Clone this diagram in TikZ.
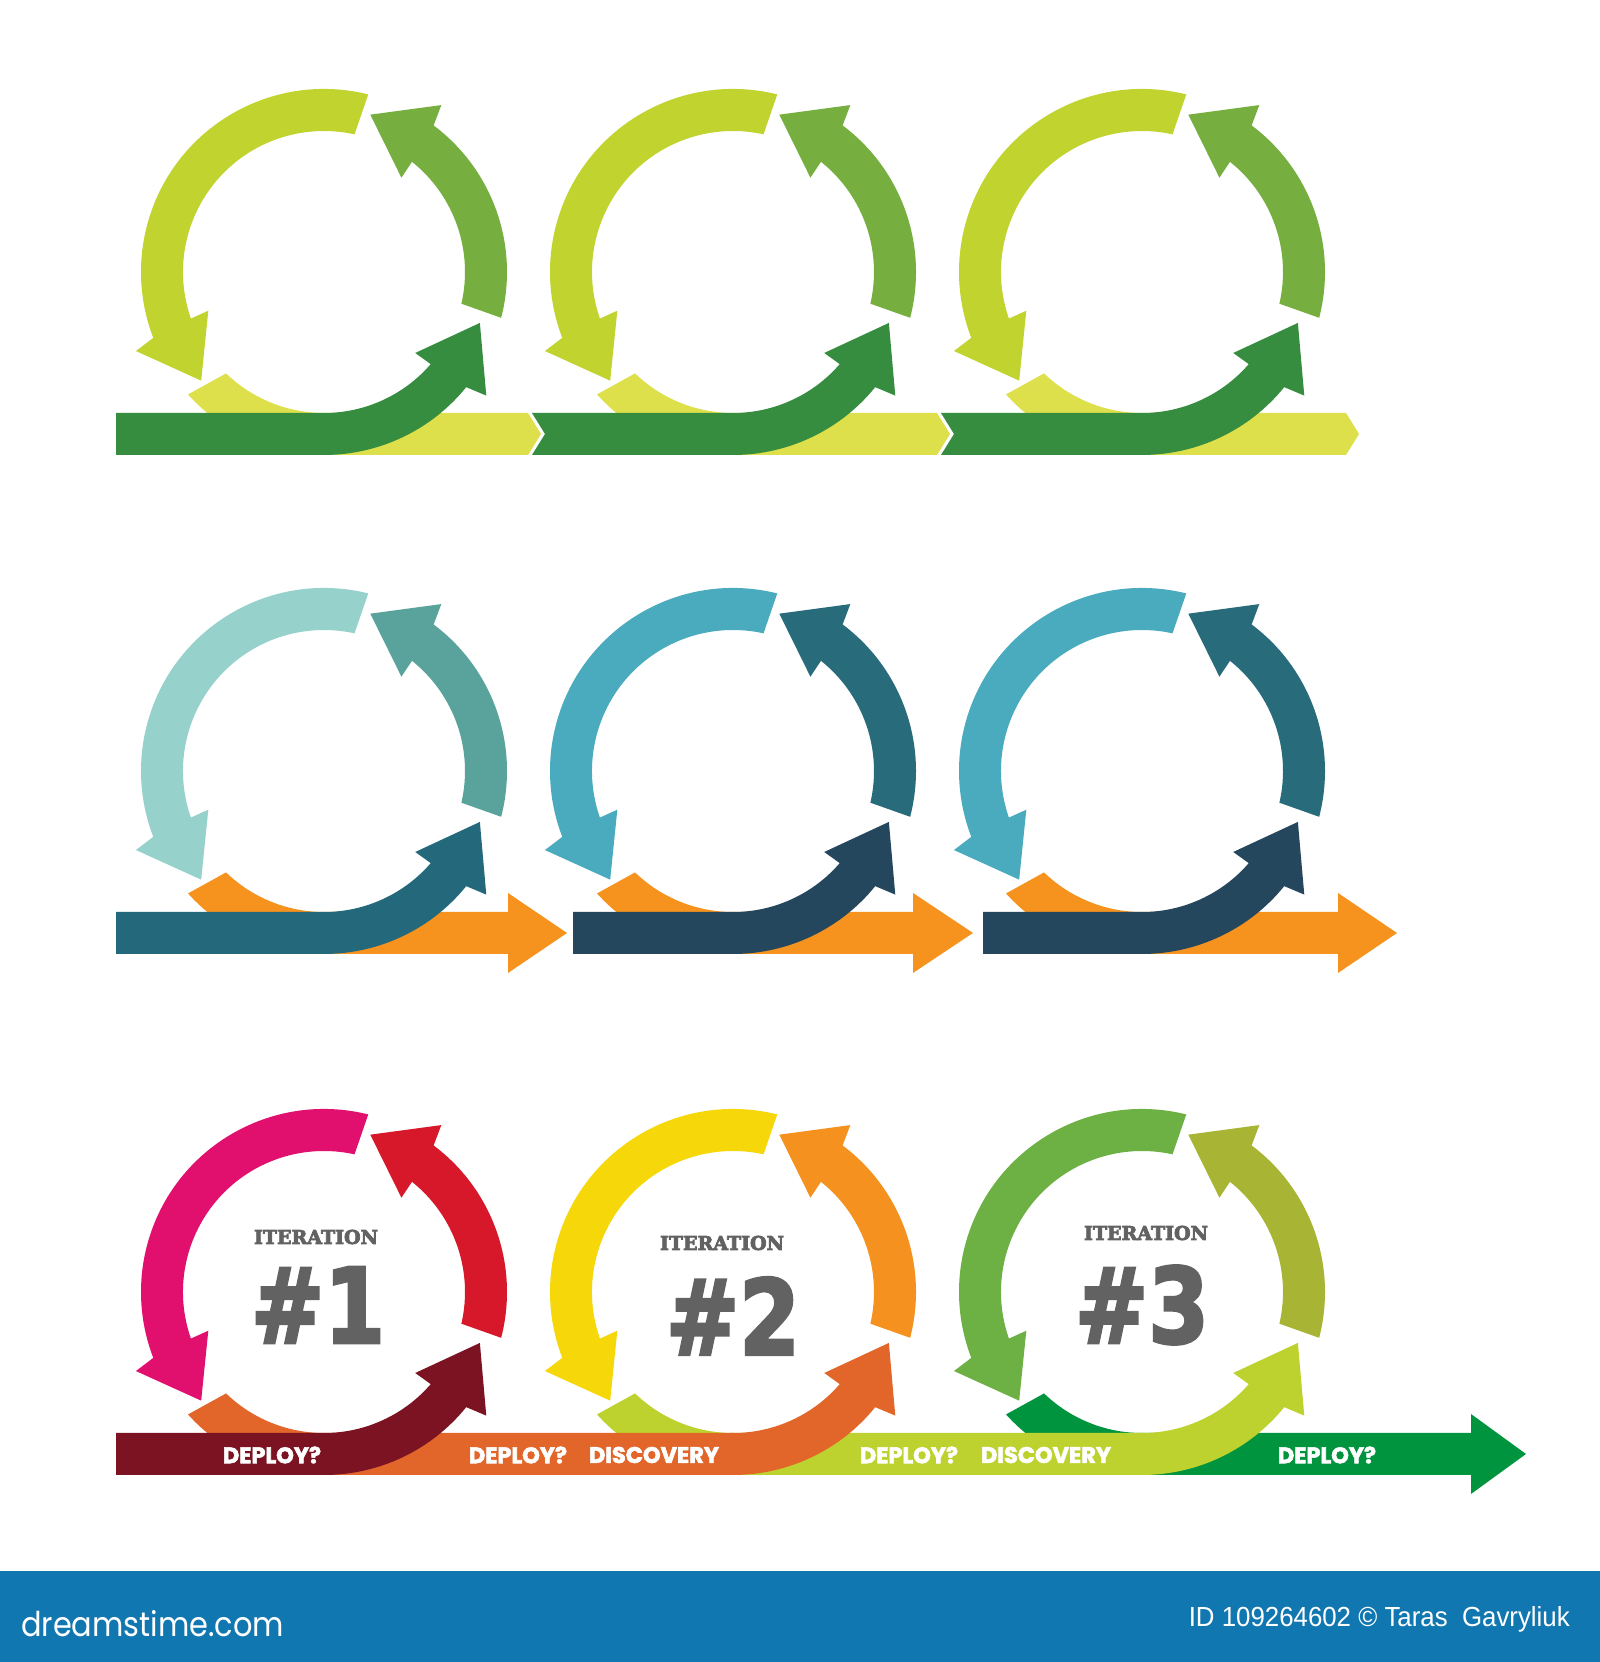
\documentclass[tikz,border=0pt]{standalone}
\usepackage{fontspec}
\usepackage{graphicx}
\newfontfamily\popfont{Poppins}[BoldFeatures={FakeBold=2.5}]
\newfontfamily\djsans{DejaVu Sans}[BoldFeatures={FakeBold=3}]
\newfontfamily\djserif{DejaVu Serif}[BoldFeatures={FakeBold=4}]
\newfontfamily\libsans{Liberation Sans}
% row 1
\definecolor{ra}{HTML}{C0D32E}
\definecolor{rb}{HTML}{76AF3F}
\definecolor{rc}{HTML}{368C3F}
\definecolor{rd}{HTML}{DEE04B}
% row 2
\definecolor{ta}{HTML}{96D1CB}
\definecolor{tb}{HTML}{5AA39C}
\definecolor{tc}{HTML}{24697B}
\definecolor{ua}{HTML}{49ABBD}
\definecolor{ub}{HTML}{286C7C}
\definecolor{uc}{HTML}{25475E}
\definecolor{orng}{HTML}{F6921E}
% row 3
\definecolor{mag}{HTML}{E10F6E}
\definecolor{redd}{HTML}{D6182A}
\definecolor{maroon}{HTML}{7B1322}
\definecolor{dorng}{HTML}{E2662A}
\definecolor{yell}{HTML}{F6D70A}
\definecolor{orng2}{HTML}{F5921F}
\definecolor{ygrn}{HTML}{BED22F}
\definecolor{grn}{HTML}{6DB044}
\definecolor{olive}{HTML}{A8B433}
\definecolor{dgrn}{HTML}{00943F}
\definecolor{txtgray}{HTML}{626262}
\definecolor{footblue}{HTML}{1177B0}
% ring arrow: cx, cy, tail angle, head base angle, tip angle, colour
\newcommand\RingArrow[6]{%
 \fill[#6,shift={(#1,#2)}] (#3-1.5:183) arc[start angle=#3-1.5,end angle=#4+2.6,radius=183]
  -- (#4+4.3:204) -- (#5:164) -- (#4:122) -- (#4+0.8:141)
  arc[start angle=#4+0.8,end angle=#3,radius=141] -- cycle;}
% bottom arrow with bar: cx, cy, bar start (rel), notch depth, colour
\newcommand\BotArrow[5]{%
 \fill[#5,shift={(#1,#2)}] (#3,-141) -- (0,-141) arc[start angle=270,end angle=319.2,radius=141]
  -- (318.4:122) -- (341.9:164) -- (322.7:204) -- (321:183)
  arc[start angle=321,end angle=270,radius=183] -- (#3,-183) -- (#3+#4,-162) -- cycle;}
% pieces: cx, cy, end (rel), colour
\newcommand\PieceChev[4]{%
 \fill[#4,shift={(#1,#2)}] (222:183) arc[start angle=222,end angle=270,radius=183]
  -- (#3-13,-183) -- (#3,-162) -- (#3-13,-141) -- (0,-141)
  arc[start angle=270,end angle=226,radius=141] -- cycle;}
\newcommand\PieceBar[4]{%
 \fill[#4,shift={(#1,#2)}] (222:183) arc[start angle=222,end angle=270,radius=183]
  -- (#3,-183) -- (#3,-141) -- (0,-141)
  arc[start angle=270,end angle=226,radius=141] -- cycle;}
% cx, cy, head base (rel), tip (rel), colour
\newcommand\PieceHead[5]{%
 \fill[#5,shift={(#1,#2)}] (222:183) arc[start angle=222,end angle=270,radius=183]
  -- (#3,-183) -- (#3,-202) -- (#4,-162) -- (#3,-122) -- (#3,-141) -- (0,-141)
  arc[start angle=270,end angle=226,radius=141] -- cycle;}
\begin{document}
\begin{tikzpicture}[x=1pt,y=1pt,
  barlabel/.style={text=white,font=\popfont\bfseries\fontsize{22.5}{23}\selectfont,inner sep=0pt},
  itertext/.style={text=txtgray,font=\djserif\bfseries\fontsize{19}{20}\selectfont,inner sep=0pt},
  numtext/.style={text=txtgray,font=\djsans\bfseries\fontsize{104}{104}\selectfont,inner sep=0pt},
  foottext/.style={text=white,inner sep=0pt}]
\useasboundingbox (0,0) rectangle (1600,1662);
\fill[white] (0,0) rectangle (1600,1662);
% ---------- row 1 ----------
\foreach \cx/\xs/\nd in {324/-208/0,733/-201/13,1142/-201/13}{
  \RingArrow{\cx}{1390}{77.5}{198.5}{221.5}{ra}
  \RingArrow{\cx}{1390}{-13}{50.6}{73.6}{rb}
  \PieceChev{\cx}{1390}{217}{rd}
  \BotArrow{\cx}{1390}{\xs}{\nd}{rc}
}
% ---------- row 2 ----------
\RingArrow{324}{891}{77.5}{198.5}{221.5}{ta}
\RingArrow{324}{891}{-13}{50.6}{73.6}{tb}
\PieceHead{324}{891}{184}{243}{orng}
\BotArrow{324}{891}{-208}{0}{tc}
\foreach \cx/\xs/\hb/\ht in {733/-160/180/240,1142/-159/196/255}{
  \RingArrow{\cx}{891}{77.5}{198.5}{221.5}{ua}
  \RingArrow{\cx}{891}{-13}{50.6}{73.6}{ub}
  \PieceHead{\cx}{891}{\hb}{\ht}{orng}
  \BotArrow{\cx}{891}{\xs}{0}{uc}
}
% ---------- row 3 ----------
\RingArrow{324}{370}{77.5}{198.5}{221.5}{mag}
\RingArrow{324}{370}{-13}{50.6}{73.6}{redd}
\RingArrow{733}{370}{77.5}{198.5}{221.5}{yell}
\RingArrow{733}{370}{-13}{50.6}{73.6}{orng2}
\RingArrow{1142}{370}{77.5}{198.5}{221.5}{grn}
\RingArrow{1142}{370}{-13}{50.6}{73.6}{olive}
\PieceHead{1142}{370}{329}{384}{dgrn}
\PieceBar{733}{370}{409}{ygrn}
\BotArrow{1142}{370}{-2}{0}{ygrn}
\PieceBar{324}{370}{409}{dorng}
\BotArrow{733}{370}{-2}{0}{dorng}
\BotArrow{324}{370}{-208}{0}{maroon}
% texts
\node[itertext] (it1) at (316,425) {ITERATION};
\node[numtext] (n1) at (318,357) {\scalebox{0.84}[1]{\#1}};
\node[itertext] (it2) at (722,419) {ITERATION};
\node[numtext] (n2) at (733,346) {\scalebox{0.84}[1]{\#2}};
\node[itertext] (it3) at (1146,429) {ITERATION};
\node[numtext] (n3) at (1142,357) {\scalebox{0.84}[1]{\#3}};
\node[barlabel] (d1) at (272,207) {DEPLOY?};
\node[barlabel] (d2) at (518,207) {DEPLOY?};
\node[barlabel] (s2) at (654,207) {DISCOVERY};
\node[barlabel] (d3) at (909,207) {DEPLOY?};
\node[barlabel] (s3) at (1046,207) {DISCOVERY};
\node[barlabel] (d4) at (1327,207) {DEPLOY?};
% footer
\fill[footblue] (0,0) rectangle (1600,91);
\node[foottext,anchor=base west] (logo) at (21,26) {\resizebox{263pt}{26pt}{\popfont dreamstime.com}};
\node[foottext,anchor=base east] (credit) at (1570,36) {\resizebox{381pt}{20pt}{\libsans ID 109264602 © Taras\ \ Gavryliuk}};
\end{tikzpicture}
\end{document}
